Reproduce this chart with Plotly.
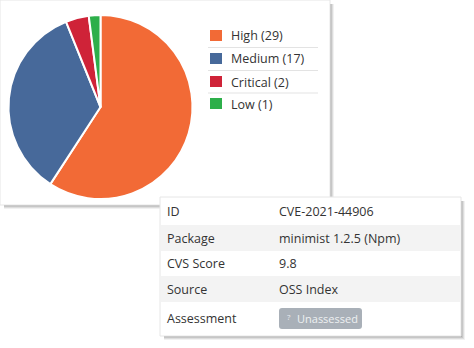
import plotly.graph_objects as go

W, H = 474, 348

# ---- data ----
severity = ["High", "Medium", "Critical", "Low"]
counts = [29, 17, 2, 1]
colors = ["#F26A36", "#47699A", "#CF2338", "#2DAF4A"]

row_labels = ["ID", "Package", "CVS Score", "Source", "Assessment"]
row_values = ["CVE-2021-44906", "minimist 1.2.5 (Npm)", "9.8", "OSS Index", "Unassessed"]

FONT = "Open Sans"
TXT = "#333333"


def px(x):
    return x / W


def py(y):
    return 1 - y / H


shapes = []
annotations = []


def rect(x0, y0, x1, y1, fill, line=None, layer="below", opacity=1.0):
    shapes.append(dict(type="rect", xref="paper", yref="paper",
                       x0=px(x0), x1=px(x1), y0=py(y1), y1=py(y0),
                       fillcolor=fill, opacity=opacity, layer=layer,
                       line=dict(width=1 if line else 0, color=line or "rgba(0,0,0,0)")))


def rrect(x0, y0, x1, y1, r, fill, layer="above"):
    X0, X1, Y0, Y1 = px(x0), px(x1), py(y1), py(y0)
    rx, ry = r / W, r / H
    path = (f"M {X0+rx},{Y0} L {X1-rx},{Y0} Q {X1},{Y0} {X1},{Y0+ry} "
            f"L {X1},{Y1-ry} Q {X1},{Y1} {X1-rx},{Y1} L {X0+rx},{Y1} "
            f"Q {X0},{Y1} {X0},{Y1-ry} L {X0},{Y0+ry} Q {X0},{Y0} {X0+rx},{Y0} Z")
    shapes.append(dict(type="path", xref="paper", yref="paper", path=path,
                       fillcolor=fill, layer=layer, line=dict(width=0)))


def card(x0, y0, x1, y1, layer):
    # soft shadow to the right / bottom
    for i, op in enumerate([0.10, 0.16, 0.22, 0.28]):
        d = 4 - i
        rect(x0 + 4, y0 + 4, x1 + d, y1 + d, "#777777", layer=layer, opacity=op)
    rect(x0, y0, x1, y1, "#FFFFFF", line="#E6E6E6", layer=layer)


# ---- top card (pie + legend) ----
card(0, 0, 330, 205, "below")

leg_x = 210
leg_rows = [36, 59, 82, 104]
for i, (name, cnt, col) in enumerate(zip(severity, counts, colors)):
    yc = leg_rows[i]
    rect(leg_x, yc - 6, leg_x + 12, yc + 5, col, layer="below")
    annotations.append(dict(x=px(229), y=py(yc), xref="paper", yref="paper",
                            text=f"{name} ({cnt})", showarrow=False,
                            xanchor="left", yanchor="middle",
                            font=dict(family=FONT, size=12.5, color=TXT)))
    if i < len(severity) - 1:
        ys = (leg_rows[i] + leg_rows[i + 1]) / 2
        shapes.append(dict(type="line", xref="paper", yref="paper",
                           x0=px(208), x1=px(318), y0=py(ys), y1=py(ys),
                           line=dict(color="#E3E3E3", width=1), layer="below"))

# ---- bottom card (details table) ----
tx0, ty0, tx1, ty1 = 160, 197, 461, 336
card(tx0, ty0, tx1, ty1, "above")
row_bounds = [197, 225, 251, 276, 302, 336]
for i, (lab, val) in enumerate(zip(row_labels, row_values)):
    r0, r1 = row_bounds[i], row_bounds[i + 1]
    if i % 2 == 1:
        rect(tx0 + 1, r0, tx1 - 1, r1, "#F3F3F3", layer="above")
    yc = (r0 + r1) / 2 if i < len(row_labels) - 1 else 318
    annotations.append(dict(x=px(165), y=py(yc), xref="paper", yref="paper",
                            text=lab, showarrow=False, xanchor="left", yanchor="middle",
                            font=dict(family=FONT, size=12.5, color=TXT)))
    if lab == "Assessment":
        rrect(279, 308, 362, 329, 3, "#A9B0B8")
        annotations.append(dict(x=px(285), y=py(yc - 2), xref="paper", yref="paper",
                                text="?", showarrow=False, xanchor="left", yanchor="middle",
                                font=dict(family=FONT, size=8, color="#E9ECEF")))
        annotations.append(dict(x=px(295), y=py(yc), xref="paper", yref="paper",
                                text=val, showarrow=False, xanchor="left", yanchor="middle",
                                font=dict(family=FONT, size=11, color="#EEF0F2")))
    else:
        annotations.append(dict(x=px(277), y=py(yc), xref="paper", yref="paper",
                                text=val, showarrow=False, xanchor="left", yanchor="middle",
                                font=dict(family=FONT, size=12.5, color=TXT)))

# ---- pie ----
cx, cy, r = 100.5, 107, 92
fig = go.Figure(go.Pie(
    labels=severity, values=counts, sort=False, direction="clockwise", rotation=0,
    marker=dict(colors=colors, line=dict(color="#FFFFFF", width=2)),
    textinfo="none", hoverinfo="label+value", showlegend=False,
    domain=dict(x=[px(cx - r), px(cx + r)], y=[py(cy + r), py(cy - r)]),
))

fig.update_layout(
    width=W, height=H, margin=dict(l=0, r=0, t=0, b=0),
    paper_bgcolor="#FFFFFF", plot_bgcolor="#FFFFFF",
    shapes=shapes, annotations=annotations, showlegend=False,
)

fig.write_html("out.html")
